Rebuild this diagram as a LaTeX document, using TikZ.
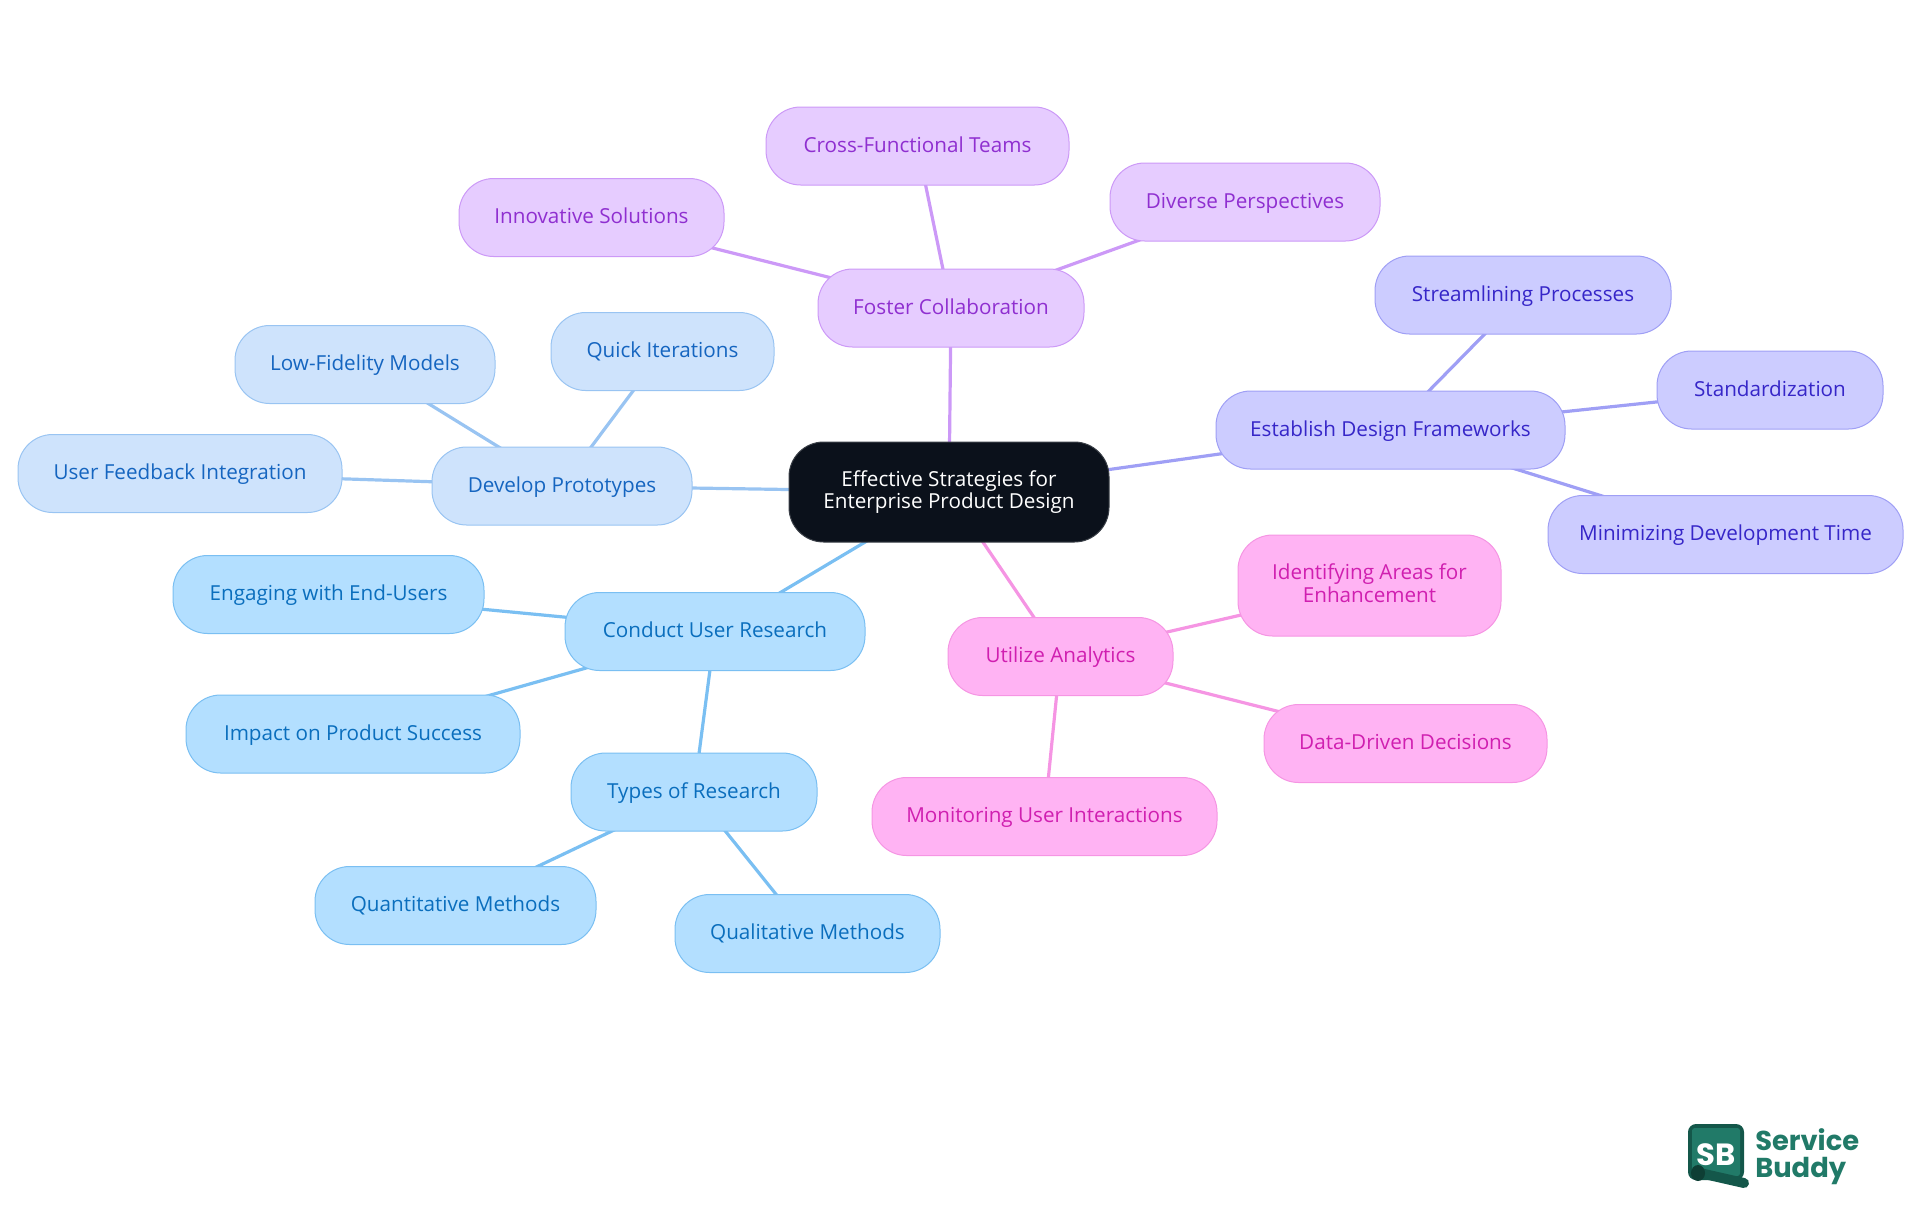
\documentclass[tikz,border=0pt]{standalone}
\usepackage{fontspec}
\setmainfont{Open Sans}
\newfontfamily\logofont{Poppins}[Scale=1]
\usetikzlibrary{backgrounds}
\newcommand{\mmstrut}{\rule[-3.8pt]{0pt}{17pt}}
\definecolor{rootfill}{HTML}{0B111B}
\definecolor{rootline}{HTML}{3A3F47}
\definecolor{cfill}{HTML}{B3DFFF}\definecolor{cline}{HTML}{7ABFF2}\definecolor{ctext}{HTML}{0A6EBD}
\definecolor{dfill}{HTML}{CEE3FC}\definecolor{dline}{HTML}{99C4F2}\definecolor{dtext}{HTML}{1565C0}
\definecolor{ffill}{HTML}{E6CCFF}\definecolor{fline}{HTML}{CC99F7}\definecolor{ftext}{HTML}{8F2FD0}
\definecolor{efill}{HTML}{CCCCFF}\definecolor{eline}{HTML}{9F9FF5}\definecolor{etext}{HTML}{3626C8}
\definecolor{ufill}{HTML}{FFB3F3}\definecolor{uline}{HTML}{F595E3}\definecolor{utext}{HTML}{D01FB0}
\definecolor{logog}{HTML}{217A68}\definecolor{logod}{HTML}{14574A}\definecolor{logok}{HTML}{0E3E34}
\tikzset{
  x=0.75pt,y=-0.75pt,
  mm/.style={rounded corners=26pt,line width=0.75pt,align=center,inner sep=0pt,font=\fontsize{15.5pt}{17pt}\selectfont,execute at begin node=\mmstrut,execute at end node=\mmstrut},
  box/.style args={#1/#2/#3}{mm,minimum width=#1*0.75pt,minimum height=#2*0.75pt},
  cn/.style={box=#1,fill=cfill,draw=cline,text=ctext},
  dn/.style={box=#1,fill=dfill,draw=dline,text=dtext},
  fn/.style={box=#1,fill=ffill,draw=fline,text=ftext},
  en/.style={box=#1,fill=efill,draw=eline,text=etext},
  un/.style={box=#1,fill=ufill,draw=uline,text=utext},
  link/.style={line width=2.4pt}
}
\begin{document}
\begin{tikzpicture}
\useasboundingbox (0,0) rectangle (1920,1215);
\node[box=320/100/0,fill=rootfill,draw=rootline,text=white] (root) at (949,492) {Effective Strategies for\\Enterprise Product Design};
% Foster
\node[fn=266/78/0] (f) at (951,308) {Foster Collaboration};
\node[fn=303/78/0] (f1) at (917.5,146) {Cross-Functional Teams};
\node[fn=265/78/0] (f2) at (591.5,217.5) {Innovative Solutions};
\node[fn=270/78/0] (f3) at (1245,202) {Diverse Perspectives};
% Establish
\node[en=349/78/0] (e) at (1390.5,430) {Establish Design Frameworks};
\node[en=296/78/0] (e1) at (1523,295) {Streamlining Processes};
\node[en=226/78/0] (e2) at (1770,390) {Standardization};
\node[en=355/78/0] (e3) at (1725.5,534.5) {Minimizing Development Time};
% Utilize
\node[un=225/78/0] (u) at (1060.5,656.5) {Utilize Analytics};
\node[un=263/101/0] (u1) at (1369.5,585.5) {Identifying Areas for\\Enhancement};
\node[un=283/78/0] (u2) at (1405.5,743.5) {Data-Driven Decisions};
\node[un=345/78/0] (u3) at (1044.5,816.5) {Monitoring User Interactions};
% Develop
\node[dn=260/78/0] (d) at (562,486) {Develop Prototypes};
\node[dn=223/78/0] (d1) at (662.5,351.5) {Quick Iterations};
\node[dn=260/78/0] (d2) at (365,364.5) {Low-Fidelity Models};
\node[dn=324/78/0] (d3) at (180,473.5) {User Feedback Integration};
% Conduct
\node[cn=300/78/0] (c) at (715,631.5) {Conduct User Research};
\node[cn=311/78/0] (c1) at (328.5,594.5) {Engaging with End-Users};
\node[cn=334/78/0] (c2) at (353,734) {Impact on Product Success};
\node[cn=246/78/0] (c3) at (694,792) {Types of Research};
\node[cn=281/78/0] (c4) at (455.5,905.5) {Quantitative Methods};
\node[cn=265/78/0] (c5) at (807.5,933.5) {Qualitative Methods};
\begin{scope}[on background layer]
\draw[link,fline] (root.center)--(f.center);
\foreach \t in {f1,f2,f3} \draw[link,fline] (f.center)--(\t.center);
\draw[link,eline] (root.center)--(e.center);
\foreach \t in {e1,e2,e3} \draw[link,eline] (e.center)--(\t.center);
\draw[link,uline] (root.center)--(u.center);
\foreach \t in {u1,u2,u3} \draw[link,uline] (u.center)--(\t.center);
\draw[link,dline] (root.center)--(d.center);
\foreach \t in {d1,d2,d3} \draw[link,dline] (d.center)--(\t.center);
\draw[link,cline] (root.center)--(c.center);
\foreach \t in {c1,c2,c3} \draw[link,cline] (c.center)--(\t.center);
\foreach \t in {c4,c5} \draw[link,cline] (c3.center)--(\t.center);
\end{scope}
% Logo
\fill[logod,rounded corners=6pt] (1688,1124) rectangle (1744,1180);
\fill[logog,rounded corners=2pt] (1692,1128) rectangle (1740,1176);
\node[inner sep=0pt,text=white,font=\logofont\bfseries\fontsize{23pt}{23pt}\selectfont] (sb) at (1716,1155) {SB};
\draw[logod,line width=7.5pt,line cap=round] (1700,1173)--(1744,1183);
\fill[logok] (1698,1173) ellipse (7 and 8);
\node[anchor=base west,inner sep=0pt,text=logog,font=\logofont\bfseries\fontsize{20.5pt}{20.5pt}\selectfont] (s1) at (1755,1150) {Service};
\node[anchor=base west,inner sep=0pt,text=logog,font=\logofont\bfseries\fontsize{20.5pt}{20.5pt}\selectfont] (s2) at (1755,1177) {Buddy};
\end{tikzpicture}
\end{document}
